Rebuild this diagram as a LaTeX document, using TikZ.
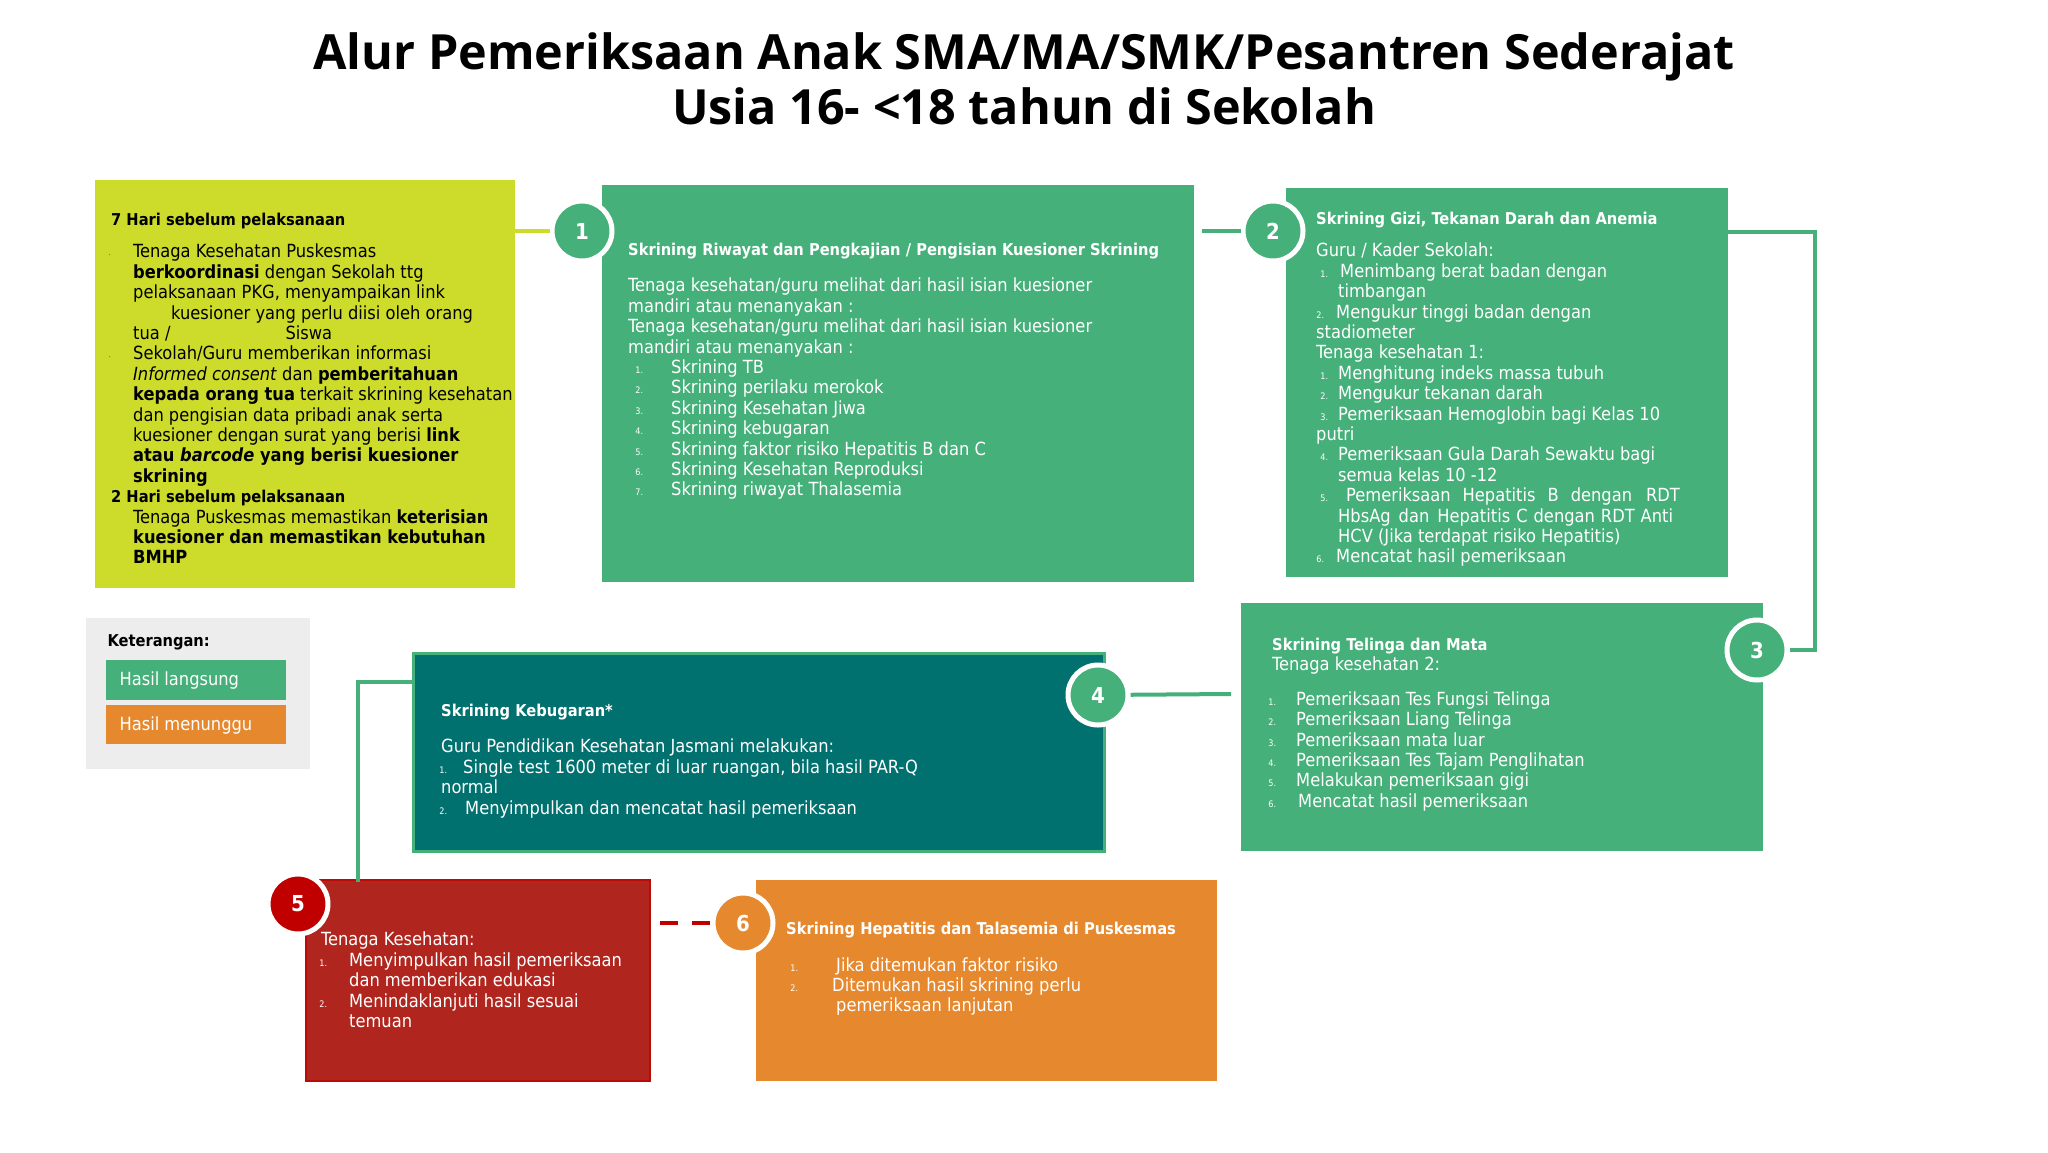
\documentclass[tikz,border=0pt]{standalone}
\usepackage{fontspec}
\setmainfont{DejaVu Sans Condensed}
\newfontfamily\titlef{Open Sans}
\definecolor{gr}{HTML}{45B07A}
\definecolor{yl}{HTML}{CDDC2B}
\definecolor{tl}{HTML}{00716F}
\definecolor{rd}{HTML}{B0261E}
\definecolor{cr}{HTML}{C00000}
\definecolor{og}{HTML}{E6892E}
\definecolor{lg}{HTML}{EDEDED}
\newcommand\nm[1]{\makebox[0pt][r]{\fontsize{9}{9}\selectfont #1}}
\newcommand\bodyf{\fontsize{18.1}{20.4}\selectfont}
\newcommand\headf{\fontsize{16.3}{20.4}\selectfont\bfseries}
\tikzset{
 txt/.style={anchor=north west,inner sep=0,align=left,font=\bodyf},
 circ/.style={circle,minimum size=60pt,draw=white,line width=5pt,text=white,font=\fontsize{22}{22}\selectfont\bfseries,inner sep=0},
 conn/.style={draw=gr,line width=4pt}
}
\begin{document}
\begin{tikzpicture}[x=1pt,y=-1pt]
\useasboundingbox (0,0) rectangle (2048,1152);
\fill[white] (0,0) rectangle (2048,1152);
% title
\node[font=\titlef\fontsize{48.5}{55}\selectfont\bfseries,align=center] (title) at (1024,79) {Alur Pemeriksaan Anak SMA/MA/SMK/Pesantren Sederajat\\Usia 16- <18 tahun di Sekolah};
% boxes
\fill[yl] (95,180) rectangle (515,588);
\coordinate (yr) at (515,231);
\fill[gr] (602,185) rectangle (1194,582);
\fill[gr] (1286,188) rectangle (1728,577);
\fill[gr] (1241,603) rectangle (1763,851);
\draw[fill=tl,draw=gr,line width=3pt] (413,653) rectangle (1104,851);
\draw[fill=rd,draw=cr!70!rd,line width=2pt] (306,880) rectangle (650,1081);
\fill[og] (756,880) rectangle (1217,1081);
% circles
\node[circ,fill=gr] (c1) at (582,231) {1};
\node[circ,fill=gr] (c2) at (1273,231) {2};
\node[circ,fill=gr] (c3) at (1757,650) {3};
\node[circ,fill=gr] (c4) at (1098,695) {4};
\node[circ,fill=cr] (c5) at (298,904) {5};
\node[circ,fill=og] (c6) at (743,923) {6};
% connectors
\coordinate (b1r) at (1202,231);
\coordinate (k2a) at (1728,232);
\coordinate (k2b) at (1815,232);
\coordinate (k2c) at (1815,650);
\coordinate (b3l) at (1231,694);
\coordinate (b4l) at (413,682);
\coordinate (k4a) at (358,682);
\coordinate (k4b) at (358,882);
\coordinate (d5) at (660,923);
\draw[draw=yl,line width=4pt] (yr) -- (c1);
\draw[conn] (b1r) -- (c2);
\draw[conn] (k2a) -- (k2b) -- (k2c) -- (c3);
\draw[conn] (b3l) -- (c4);
\draw[conn] (b4l) -- (k4a) -- (k4b);
\draw[draw=cr,line width=4pt,dash pattern=on 18pt off 14pt] (d5) -- (c6);
% yellow text
\node[txt,text=black] (ty) at (111,213) {{\headf 7 Hari sebelum pelaksanaan}\\[12pt]
\nm{$\cdot$}\hspace{22pt}Tenaga Kesehatan Puskesmas\\
\hspace{22pt}\textbf{berkoordinasi} dengan Sekolah ttg\\
\hspace{22pt}pelaksanaan PKG, menyampaikan  link\\
\hspace{60pt}kuesioner yang perlu diisi oleh orang\\
\hspace{22pt}tua /\hspace{115pt}Siswa\\
\nm{$\cdot$}\hspace{22pt}Sekolah/Guru memberikan informasi\\
\hspace{22pt}\textit{Informed consent} dan \textbf{pemberitahuan}\\
\hspace{22pt}\textbf{kepada orang tua} terkait skrining kesehatan\\
\hspace{22pt}dan  pengisian data pribadi anak serta\\
\hspace{22pt}kuesioner dengan surat yang berisi \textbf{link}\\
\hspace{22pt}\textbf{atau \textit{barcode} yang berisi kuesioner}\\
\hspace{22pt}\textbf{skrining}\\
{\headf 2 Hari sebelum pelaksanaan}\\
\hspace{22pt}Tenaga Puskesmas memastikan \textbf{keterisian}\\
\hspace{22pt}\textbf{kuesioner dan memastikan kebutuhan}\\
\hspace{22pt}\textbf{BMHP}};
% box1 text
\node[txt,text=white] (t1) at (628,243) {{\headf Skrining Riwayat dan Pengkajian /  Pengisian Kuesioner Skrining}\\[16pt]
Tenaga kesehatan/guru  melihat dari hasil isian kuesioner\\
mandiri atau menanyakan :\\
Tenaga kesehatan/guru  melihat dari hasil isian kuesioner\\
mandiri atau menanyakan :\\
\hspace{15pt}\nm{1.}\hspace{28pt}Skrining TB\\
\hspace{15pt}\nm{2.}\hspace{28pt}Skrining perilaku merokok\\
\hspace{15pt}\nm{3.}\hspace{28pt}Skrining Kesehatan Jiwa\\
\hspace{15pt}\nm{4.}\hspace{28pt}Skrining kebugaran\\
\hspace{15pt}\nm{5.}\hspace{28pt}Skrining faktor risiko Hepatitis B dan C\\
\hspace{15pt}\nm{6.}\hspace{28pt}Skrining Kesehatan Reproduksi\\
\hspace{15pt}\nm{7.}\hspace{28pt}Skrining riwayat Thalasemia};
% box2 text
\node[txt,text=white] (t2) at (1316,212) {{\headf Skrining Gizi, Tekanan Darah dan Anemia}\\[12pt]
Guru / Kader Sekolah:\\
\hspace{12pt}\nm{1.}\hspace{12pt}Menimbang berat badan dengan\\
\hspace{22pt}timbangan\\
\hspace{8pt}\nm{2.}\hspace{12pt}Mengukur tinggi badan dengan\\
stadiometer\\
Tenaga kesehatan 1:\\
\hspace{12pt}\nm{1.}\hspace{10pt}Menghitung indeks massa tubuh\\
\hspace{12pt}\nm{2.}\hspace{10pt}Mengukur tekanan darah\\
\hspace{12pt}\nm{3.}\hspace{10pt}Pemeriksaan Hemoglobin bagi Kelas 10\\
putri\\
\hspace{12pt}\nm{4.}\hspace{10pt}Pemeriksaan Gula Darah Sewaktu bagi\\
\hspace{22pt}semua kelas 10 -12\\
\hspace{12pt}\nm{5.}\hspace{18pt}Pemeriksaan\hspace{12pt}Hepatitis\hspace{12pt}B\hspace{12pt}dengan\hspace{14pt}RDT\\
\hspace{22pt}HbsAg\hspace{8pt}dan\hspace{8pt}Hepatitis\hspace{6pt}C\hspace{6pt}dengan\hspace{6pt}RDT\hspace{6pt}Anti\\
\hspace{22pt}HCV (Jika terdapat risiko Hepatitis)\\
\hspace{8pt}\nm{6.}\hspace{12pt}Mencatat hasil pemeriksaan};
% box3 text
\node[txt,text=white] (t3) at (1272,638) {{\headf Skrining Telinga dan Mata}\\
Tenaga kesehatan 2:\\[14pt]
\hspace{4pt}\nm{1.}\hspace{20pt}Pemeriksaan Tes Fungsi Telinga\\
\hspace{4pt}\nm{2.}\hspace{20pt}Pemeriksaan Liang Telinga\\
\hspace{4pt}\nm{3.}\hspace{20pt}Pemeriksaan mata luar\\
\hspace{4pt}\nm{4.}\hspace{20pt}Pemeriksaan Tes Tajam Penglihatan\\
\hspace{4pt}\nm{5.}\hspace{20pt}Melakukan pemeriksaan gigi\\
\hspace{4pt}\nm{6.}\hspace{22pt}Mencatat hasil pemeriksaan};
% box4 text
\node[txt,text=white] (t4) at (441,704) {{\headf Skrining Kebugaran*}\\[16pt]
Guru Pendidikan Kesehatan Jasmani melakukan:\\
\hspace{6pt}\nm{1.}\hspace{16pt}Single test 1600 meter di luar ruangan, bila hasil PAR-Q\\
normal\\
\hspace{6pt}\nm{2.}\hspace{18pt}Menyimpulkan dan mencatat hasil pemeriksaan};
% box5 text
\node[txt,text=white] (t5) at (321,932) {Tenaga Kesehatan:\\
\hspace{6pt}\nm{1.}\hspace{22pt}Menyimpulkan hasil pemeriksaan\\
\hspace{28pt}dan memberikan edukasi\\
\hspace{6pt}\nm{2.}\hspace{22pt}Menindaklanjuti hasil sesuai\\
\hspace{28pt}temuan};
% box6 text
\node[txt,text=white] (t6) at (786,922) {{\headf Skrining Hepatitis dan Talasemia di Puskesmas}\\[16pt]
\hspace{12pt}\nm{1.}\hspace{38pt}Jika ditemukan faktor risiko\\
\hspace{12pt}\nm{2.}\hspace{34pt}Ditemukan hasil skrining perlu\\
\hspace{50pt}pemeriksaan lanjutan};
% legend
\fill[lg] (86,618) rectangle (310,769);
\node[anchor=west,font=\headf] (lk) at (104,642) {Keterangan:};
\fill[gr] (106,660) rectangle (286,700);
\fill[og] (106,705) rectangle (286,744);
\node[anchor=west,text=white,font=\bodyf] (l1) at (116,680) {Hasil langsung};
\node[anchor=west,text=white,font=\bodyf] (l2) at (116,725) {Hasil menunggu};
\end{tikzpicture}
\end{document}
